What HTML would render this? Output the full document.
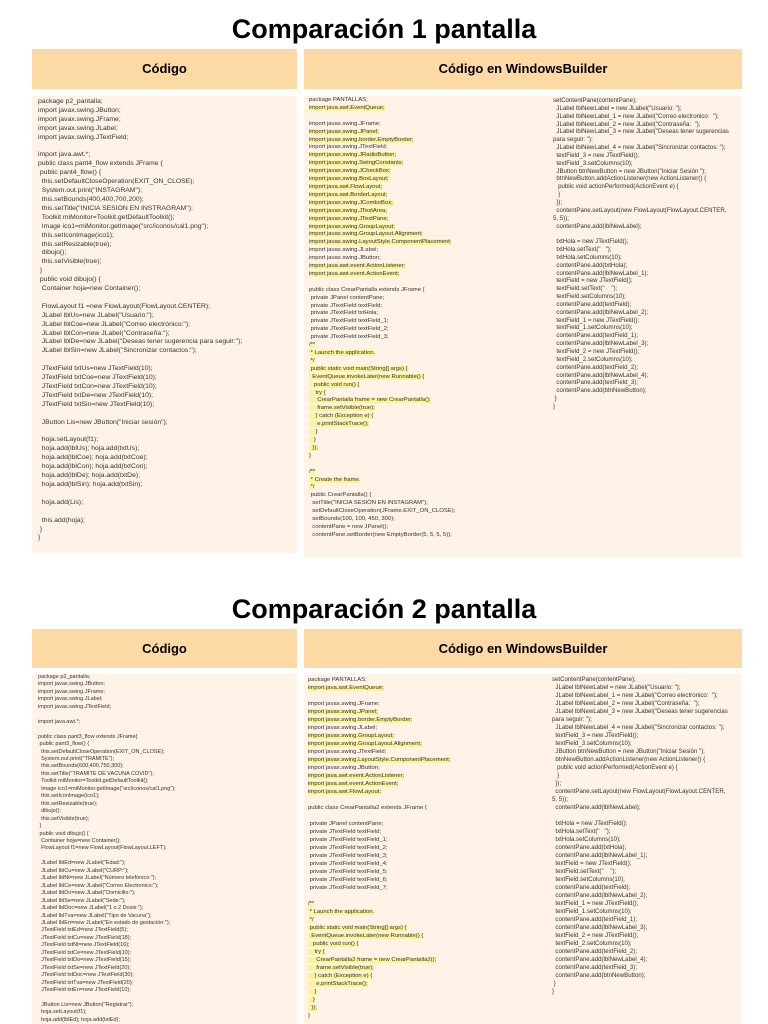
<!DOCTYPE html>
<html><head><meta charset="utf-8"><style>
body{margin:0;width:768px;height:1024px;background:#fff;position:relative;overflow:hidden;font-family:"Liberation Sans",sans-serif}
.t{position:absolute;left:0;width:768px;text-align:center;font-weight:bold;font-size:27px;color:#000}
.h{position:absolute;background:#fdd9a5;font-weight:bold;font-size:13px;text-align:center}
.b{position:absolute;background:#fef3e6}
pre{position:absolute;margin:0;font-family:"Liberation Sans",sans-serif;color:#333;white-space:pre-wrap}
.y{background:#fcf39c}
</style></head><body>
<div class="t" style="top:14px">Comparación 1 pantalla</div>
<div class="h" style="left:32px;top:49px;width:265px;height:40px;line-height:40px">Código</div>
<div class="h" style="left:304px;top:49px;width:438px;height:40px;line-height:40px">Código en WindowsBuilder</div>
<div class="b" style="left:32px;top:96px;width:265px;height:457px"></div>
<div class="b" style="left:304px;top:96px;width:438px;height:461px"></div>
<pre style="left:38px;top:98px;font-size:6.8px;line-height:8.9px">package p2_pantalla;
import javax.swing.JButton;
import javax.swing.JFrame;
import javax.swing.JLabel;
import javax.swing.JTextField;

import java.awt.*;
public class pant4_flow extends JFrame {
 public pant4_flow() {
  this.setDefaultCloseOperation(EXIT_ON_CLOSE);
  System.out.print("INSTAGRAM");
  this.setBounds(400,400,700,200);
  this.setTitle("INICIA SESION EN INSTRAGRAM");
  Toolkit miMonitor=Toolkit.getDefaultToolkit();
  Image ico1=miMonitor.getImage("src/iconos/cal1.png");
  this.setIconImage(ico1);
  this.setResizable(true);
  dibujo();
  this.setVisible(true);
 }
 public void dibujo() {
  Container hoja=new Container();

  FlowLayout f1 =new FlowLayout(FlowLayout.CENTER);
  JLabel lblUs=new JLabel("Usuario:");
  JLabel lblCoe=new JLabel("Correo electrónico:");
  JLabel lblCon=new JLabel("Contraseña:");
  JLabel lblDe=new JLabel("Deseas tener sugerencia para seguir:");
  JLabel lblSin=new JLabel("Sincronizar contactos:");

  JTextField txtUs=new JTextField(10);
  JTextField txtCoe=new JTextField(10);
  JTextField txtCon=new JTextField(10);
  JTextField txtDe=new JTextField(10);
  JTextField txtSin=new JTextField(10);

  JButton Lis=new JButton("Iniciar sesión");

  hoja.setLayout(f1);
  hoja.add(lblUs); hoja.add(txtUs);
  hoja.add(lblCoe); hoja.add(txtCoe);
  hoja.add(lblCon); hoja.add(txtCon);
  hoja.add(lblDe); hoja.add(txtDe);
  hoja.add(lblSin); hoja.add(txtSin);

  hoja.add(Lis);

  this.add(hoja);
 }
}</pre>
<pre style="left:309px;top:97px;font-size:5.9px;line-height:7.9px;width:240px">package PANTALLAS;
<span class="y">import java.awt.EventQueue;</span>

import javax.swing.JFrame;
<span class="y">import javax.swing.JPanel;</span>
<span class="y">import javax.swing.border.EmptyBorder;</span>
import javax.swing.JTextField;
<span class="y">import javax.swing.JRadioButton;</span>
<span class="y">import javax.swing.SwingConstants;</span>
<span class="y">import javax.swing.JCheckBox;</span>
<span class="y">import javax.swing.BoxLayout;</span>
<span class="y">import java.awt.FlowLayout;</span>
<span class="y">import java.awt.BorderLayout;</span>
<span class="y">import javax.swing.JComboBox;</span>
<span class="y">import javax.swing.JTextArea;</span>
<span class="y">import javax.swing.JTextPane;</span>
<span class="y">import javax.swing.GroupLayout;</span>
<span class="y">import javax.swing.GroupLayout.Alignment;</span>
<span class="y">import javax.swing.LayoutStyle.ComponentPlacement;</span>
import javax.swing.JLabel;
import javax.swing.JButton;
<span class="y">import java.awt.event.ActionListener;</span>
<span class="y">import java.awt.event.ActionEvent;</span>

public class CrearPantalla extends JFrame {
 private JPanel contentPane;
 private JTextField textField;
 private JTextField txtHola;
 private JTextField textField_1;
 private JTextField textField_2;
 private JTextField textField_3;
<span class="y">/**</span>
<span class="y"> * Launch the application.</span>
<span class="y"> */</span>
<span class="y"> public static void main(String[] args) {</span>
<span class="y">  EventQueue.invokeLater(new Runnable() {</span>
<span class="y">   public void run() {</span>
<span class="y">    try {</span>
<span class="y">     CrearPantalla frame = new CrearPantalla();</span>
<span class="y">     frame.setVisible(true);</span>
<span class="y">    } catch (Exception e) {</span>
<span class="y">     e.printStackTrace();</span>
<span class="y">    }</span>
<span class="y">   }</span>
<span class="y">  });</span>
<span class="y">}</span>

<span class="y">/**</span>
<span class="y"> * Create the frame.</span>
<span class="y"> */</span>
 public CrearPantalla() {
  setTitle("INICIA SESIÓN EN INSTAGRAM");
  setDefaultCloseOperation(JFrame.EXIT_ON_CLOSE);
  setBounds(100, 100, 450, 300);
  contentPane = new JPanel();
  contentPane.setBorder(new EmptyBorder(5, 5, 5, 5));</pre>
<pre style="left:553px;top:97px;font-size:6.1px;line-height:7.85px;width:178px">setContentPane(contentPane);
  JLabel lblNewLabel = new JLabel("Usuario: ");
  JLabel lblNewLabel_1 = new JLabel("Correo electronico:  ");
  JLabel lblNewLabel_2 = new JLabel("Contraseña:  ");
  JLabel lblNewLabel_3 = new JLabel("Deseas tener sugerencias para seguir: ");
  JLabel lblNewLabel_4 = new JLabel("Sincronizar contactos: ");
  textField_3 = new JTextField();
  textField_3.setColumns(10);
  JButton btnNewButton = new JButton("Iniciar Sesión ");
  btnNewButton.addActionListener(new ActionListener() {
   public void actionPerformed(ActionEvent e) {
   }
  });
  contentPane.setLayout(new FlowLayout(FlowLayout.CENTER, 5, 5));
  contentPane.add(lblNewLabel);

  txtHola = new JTextField();
  txtHola.setText("   ");
  txtHola.setColumns(10);
  contentPane.add(txtHola);
  contentPane.add(lblNewLabel_1);
  textField = new JTextField();
  textField.setText("    ");
  textField.setColumns(10);
  contentPane.add(textField);
  contentPane.add(lblNewLabel_2);
  textField_1 = new JTextField();
  textField_1.setColumns(10);
  contentPane.add(textField_1);
  contentPane.add(lblNewLabel_3);
  textField_2 = new JTextField();
  textField_2.setColumns(10);
  contentPane.add(textField_2);
  contentPane.add(lblNewLabel_4);
  contentPane.add(textField_3);
  contentPane.add(btnNewButton);
 }
}</pre>

<div class="t" style="top:594px">Comparación 2 pantalla</div>
<div class="h" style="left:32px;top:629px;width:265px;height:39px;line-height:39px">Código</div>
<div class="h" style="left:304px;top:629px;width:438px;height:39px;line-height:39px">Código en WindowsBuilder</div>
<div class="b" style="left:32px;top:674px;width:265px;height:350px"></div>
<div class="b" style="left:304px;top:674px;width:438px;height:350px"></div>
<pre style="left:38px;top:674px;font-size:5.5px;line-height:7.45px;width:258px">package p2_pantalla;
import javax.swing.JButton;
import javax.swing.JFrame;
import javax.swing.JLabel;
import javax.swing.JTextField;

import java.awt.*;

public class pant3_flow extends JFrame{
 public pant3_flow() {
  this.setDefaultCloseOperation(EXIT_ON_CLOSE);
  System.out.print("TRAMITE");
  this.setBounds(600,400,750,300);
  this.setTitle("TRAMITE DE VACUNA COVID");
  Toolkit miMonitor=Toolkit.getDefaultToolkit();
  Image ico1=miMonitor.getImage("src/iconos/cal1.png");
  this.setIconImage(ico1);
  this.setResizable(true);
  dibujo();
  this.setVisible(true);
 }
 public void dibujo() {
  Container hoja=new Container();
  FlowLayout f1=new FlowLayout(FlowLayout.LEFT);

  JLabel lblEd=new JLabel("Edad:");
  JLabel lblCu=new JLabel("CURP:");
  JLabel lblNt=new JLabel("Número telefónico:");
  JLabel lblCe=new JLabel("Correo Electronico:");
  JLabel lblDo=new JLabel("Domicilio:");
  JLabel lblSe=new JLabel("Sede:");
  JLabel lblDoc=new JLabel("1 o 2 Dosis:");
  JLabel lblTva=new JLabel("Tipo de Vacuna");
  JLabel lblEn=new JLabel("En estado de gestación:");
  JTextField txtEd=new JTextField(5);
  JTextField txtCu=new JTextField(18);
  JTextField txtNt=new JTextField(16);
  JTextField txtCe=new JTextField(10);
  JTextField txtDo=new JTextField(15);
  JTextField txtSe=new JTextField(20);
  JTextField txtDoc=new JTextField(30);
  JTextField txtTva=new JTextField(20);
  JTextField txtEn=new JTextField(10);

  JButton Lis=new JButton("Registrar");
  hoja.setLayout(f1);
  hoja.add(lblEd); hoja.add(txtEd);</pre>
<pre style="left:308px;top:676px;font-size:5.9px;line-height:8px;width:240px">package PANTALLAS;
<span class="y">import java.awt.EventQueue;</span>

import javax.swing.JFrame;
<span class="y">import javax.swing.JPanel;</span>
<span class="y">import javax.swing.border.EmptyBorder;</span>
import javax.swing.JLabel;
<span class="y">import javax.swing.GroupLayout;</span>
<span class="y">import javax.swing.GroupLayout.Alignment;</span>
import javax.swing.JTextField;
<span class="y">import javax.swing.LayoutStyle.ComponentPlacement;</span>
import javax.swing.JButton;
<span class="y">import java.awt.event.ActionListener;</span>
<span class="y">import java.awt.event.ActionEvent;</span>
<span class="y">import java.awt.FlowLayout;</span>

public class CrearPantalla2 extends JFrame {

 private JPanel contentPane;
 private JTextField textField;
 private JTextField textField_1;
 private JTextField textField_2;
 private JTextField textField_3;
 private JTextField textField_4;
 private JTextField textField_5;
 private JTextField textField_6;
 private JTextField textField_7;

<span class="y">/**</span>
<span class="y"> * Launch the application.</span>
<span class="y"> */</span>
<span class="y"> public static void main(String[] args) {</span>
<span class="y">  EventQueue.invokeLater(new Runnable() {</span>
<span class="y">   public void run() {</span>
<span class="y">    try {</span>
<span class="y">     CrearPantalla2 frame = new CrearPantalla2();</span>
<span class="y">     frame.setVisible(true);</span>
<span class="y">    } catch (Exception e) {</span>
<span class="y">     e.printStackTrace();</span>
<span class="y">    }</span>
<span class="y">   }</span>
<span class="y">  });</span>
<span class="y">}</span></pre>
<pre style="left:552px;top:676px;font-size:6.1px;line-height:8px;width:178px">setContentPane(contentPane);
  JLabel lblNewLabel = new JLabel("Usuario: ");
  JLabel lblNewLabel_1 = new JLabel("Correo electronico:  ");
  JLabel lblNewLabel_2 = new JLabel("Contraseña:  ");
  JLabel lblNewLabel_3 = new JLabel("Deseas tener sugerencias para seguir: ");
  JLabel lblNewLabel_4 = new JLabel("Sincronizar contactos: ");
  textField_3 = new JTextField();
  textField_3.setColumns(10);
  JButton btnNewButton = new JButton("Iniciar Sesión ");
  btnNewButton.addActionListener(new ActionListener() {
   public void actionPerformed(ActionEvent e) {
   }
  });
  contentPane.setLayout(new FlowLayout(FlowLayout.CENTER, 5, 5));
  contentPane.add(lblNewLabel);

  txtHola = new JTextField();
  txtHola.setText("   ");
  txtHola.setColumns(10);
  contentPane.add(txtHola);
  contentPane.add(lblNewLabel_1);
  textField = new JTextField();
  textField.setText("    ");
  textField.setColumns(10);
  contentPane.add(textField);
  contentPane.add(lblNewLabel_2);
  textField_1 = new JTextField();
  textField_1.setColumns(10);
  contentPane.add(textField_1);
  contentPane.add(lblNewLabel_3);
  textField_2 = new JTextField();
  textField_2.setColumns(10);
  contentPane.add(textField_2);
  contentPane.add(lblNewLabel_4);
  contentPane.add(textField_3);
  contentPane.add(btnNewButton);
 }
}</pre>
</body></html>
